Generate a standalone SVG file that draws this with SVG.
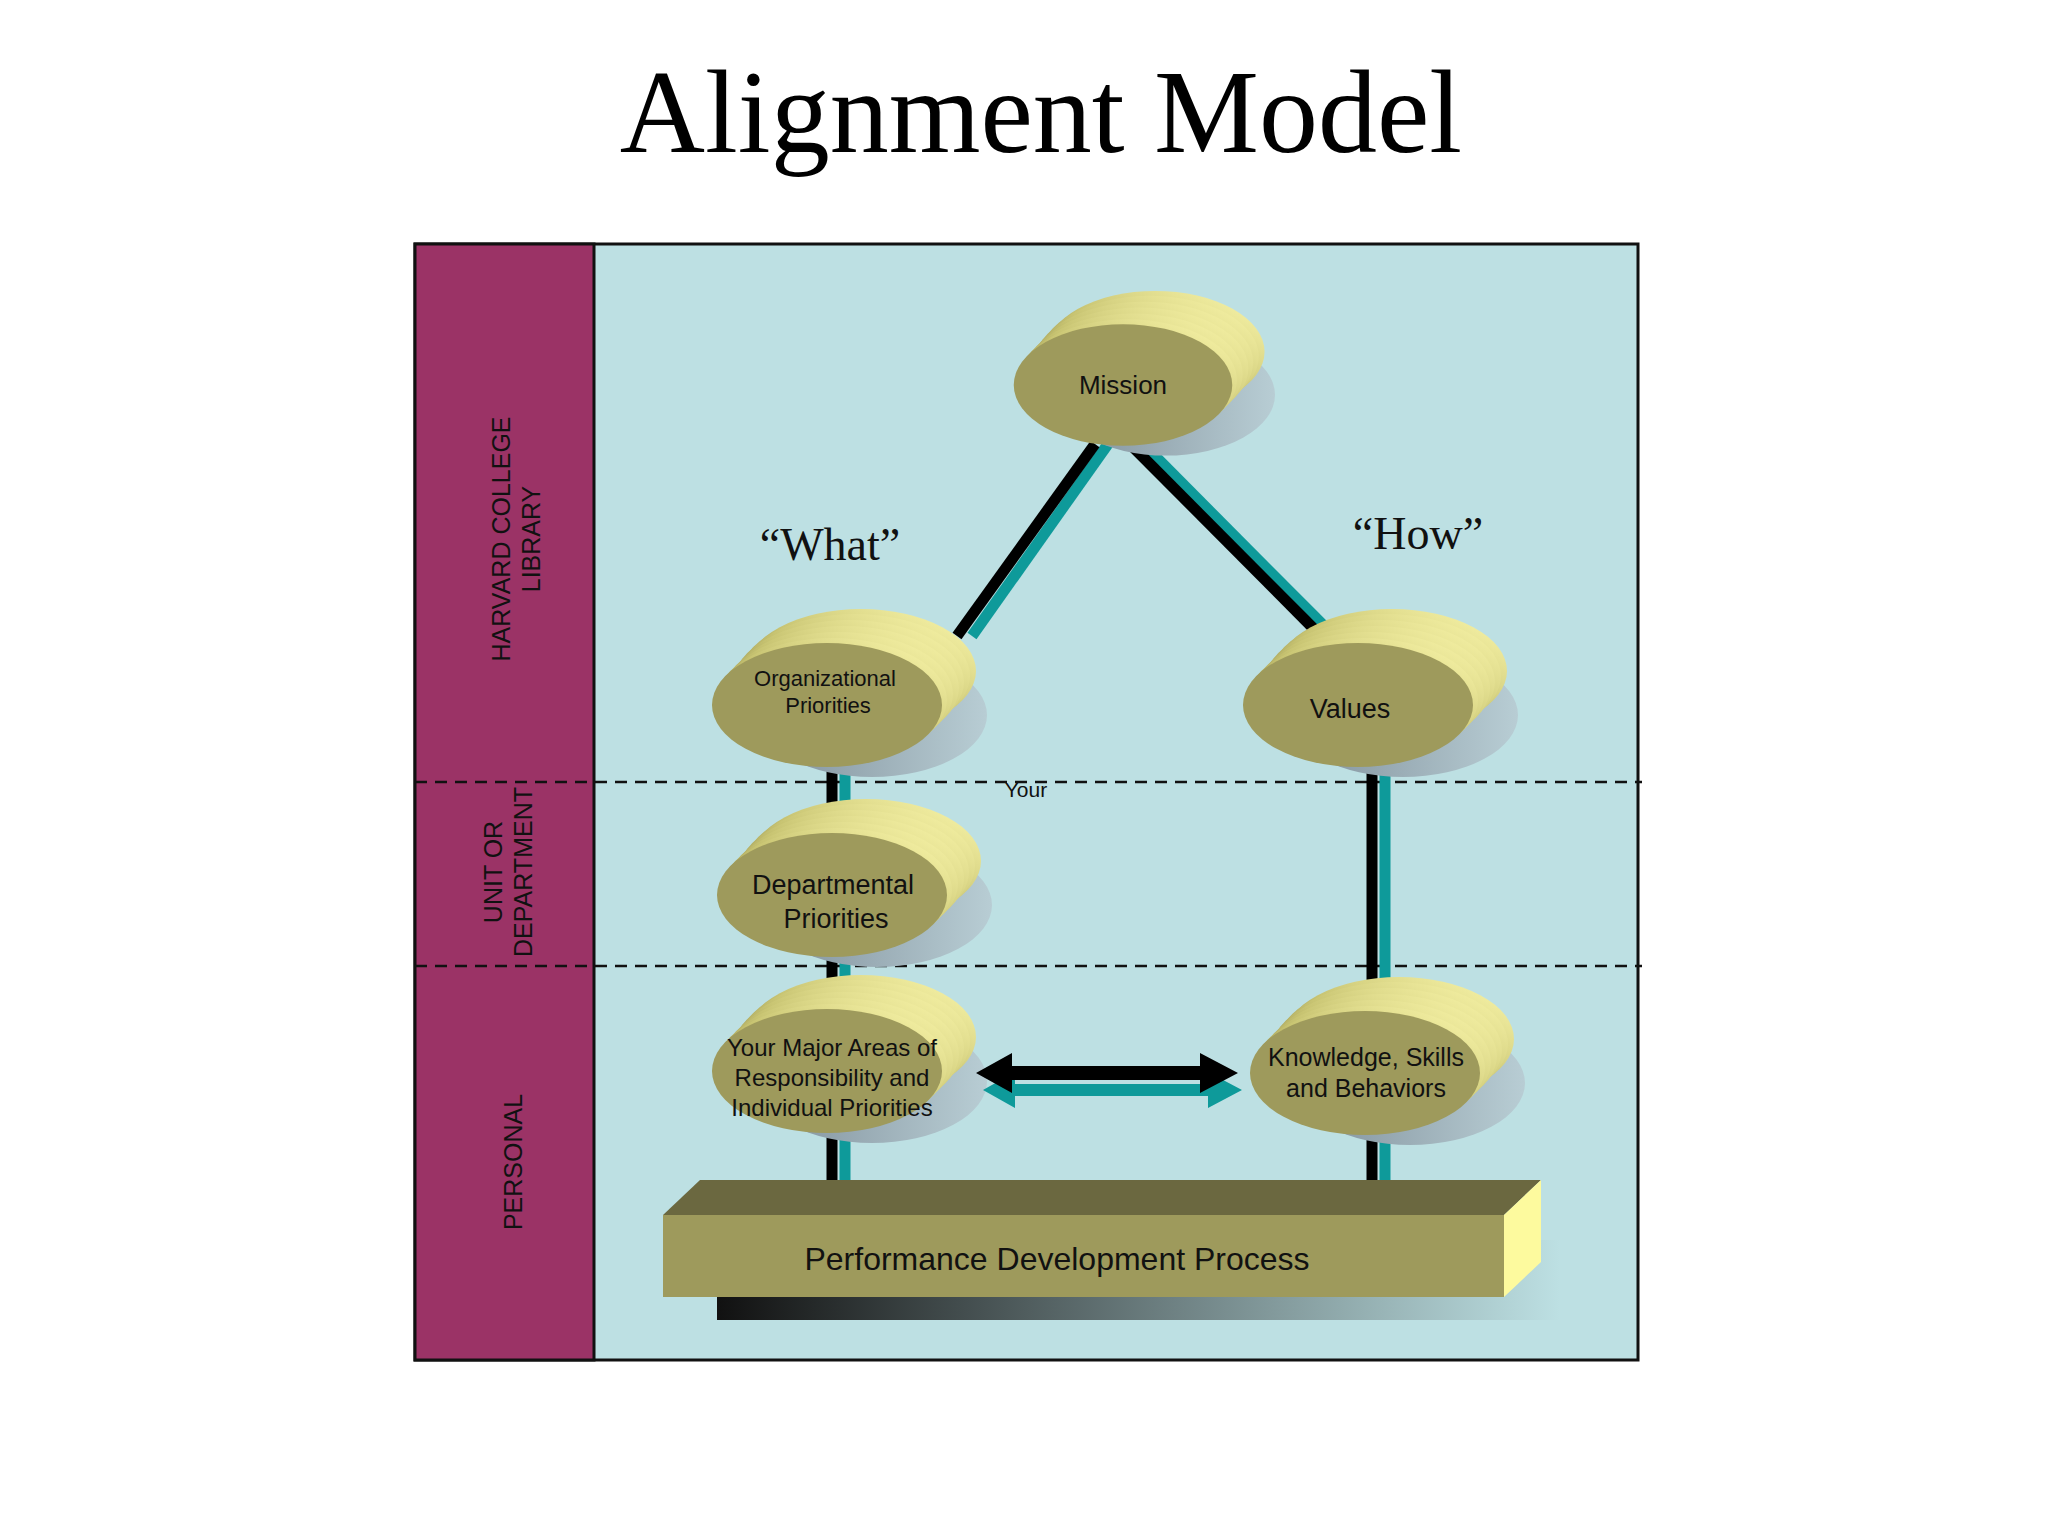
<svg xmlns="http://www.w3.org/2000/svg" width="2048" height="1536" viewBox="0 0 2048 1536">
<style>
.lbl{font-family:"Liberation Sans",Arial,sans-serif;fill:#111;text-anchor:middle}
.side{font-family:"Liberation Sans",Arial,sans-serif;fill:#111;text-anchor:middle;font-size:25px}
.q{font-family:"Liberation Serif","Times New Roman",serif;fill:#111;text-anchor:middle;font-size:46px}
.dash{stroke:#111;stroke-width:2.5;stroke-dasharray:12 8}
</style>
<defs>
<linearGradient id="yel" x1="0" y1="1" x2="1" y2="0">
<stop offset="0" stop-color="#6e6a38"/><stop offset="0.5" stop-color="#c8c472"/><stop offset="1" stop-color="#fffbb0"/>
</linearGradient>
<linearGradient id="shd" x1="0" y1="0" x2="1" y2="0">
<stop offset="0" stop-color="#7f8f9a"/><stop offset="1" stop-color="#b8cdd4"/>
</linearGradient>
<linearGradient id="boxsh" x1="0" y1="0" x2="1" y2="0">
<stop offset="0" stop-color="#111"/><stop offset="1" stop-color="#bde0e3"/>
</linearGradient>
<g id="node">
<ellipse cx="45" cy="10" rx="115" ry="62" fill="url(#shd)"/>
<ellipse cx="34" cy="-34" rx="115" ry="62" fill="url(#yel)"/>
<ellipse cx="28" cy="-29" rx="115" ry="62" fill="url(#yel)"/>
<ellipse cx="22" cy="-23" rx="115" ry="62" fill="url(#yel)"/>
<ellipse cx="17" cy="-17" rx="115" ry="62" fill="url(#yel)"/>
<ellipse cx="11" cy="-11" rx="115" ry="62" fill="url(#yel)"/>
<ellipse cx="5" cy="-5" rx="115" ry="62" fill="url(#yel)"/>
<ellipse cx="0" cy="0" rx="115" ry="62" fill="#9e9a5c"/>
</g>
</defs>
<rect width="2048" height="1536" fill="#fff"/>
<text x="1041" y="152" font-family="Liberation Serif,Times New Roman,serif" font-size="118" text-anchor="middle" fill="#000">Alignment Model</text>
<rect x="415" y="244" width="1223" height="1116" fill="#bde0e3" stroke="#111" stroke-width="3"/>
<rect x="415" y="244" width="179" height="1116" fill="#9b3366" stroke="#111" stroke-width="3"/>
<line class="dash" x1="415" y1="782" x2="1642" y2="782"/>
<line class="dash" x1="415" y1="966" x2="1642" y2="966"/>
<text class="side" transform="translate(510,539) rotate(-90)"><tspan x="0" y="0">HARVARD COLLEGE</tspan><tspan x="0" y="30">LIBRARY</tspan></text>
<text class="side" transform="translate(502,872) rotate(-90)"><tspan x="0" y="0">UNIT OR</tspan><tspan x="0" y="30">DEPARTMENT</tspan></text>
<text class="side" transform="translate(522,1162) rotate(-90)">PERSONAL</text>
<text class="q" x="830" y="560">“What”</text>
<text class="q" x="1418" y="549">“How”</text>
<text class="lbl" x="1026" y="797" font-size="21">Your</text>
<g id="connectors">
<line x1="1108" y1="444" x2="972" y2="636" stroke="#0e9a9a" stroke-width="11"/>
<line x1="1095" y1="444" x2="957" y2="636" stroke="#000" stroke-width="11"/>
<line x1="1143" y1="444" x2="1325" y2="627" stroke="#0e9a9a" stroke-width="11"/>
<line x1="1130" y1="444" x2="1315" y2="630" stroke="#000" stroke-width="11"/>
<line x1="845" y1="768" x2="845" y2="1000" stroke="#0e9a9a" stroke-width="11"/>
<line x1="832" y1="768" x2="832" y2="1000" stroke="#000" stroke-width="11"/>
<line x1="845" y1="1130" x2="845" y2="1190" stroke="#0e9a9a" stroke-width="11"/>
<line x1="832" y1="1130" x2="832" y2="1192" stroke="#000" stroke-width="11"/>
<line x1="1385" y1="768" x2="1385" y2="995" stroke="#0e9a9a" stroke-width="11"/>
<line x1="1372" y1="768" x2="1372" y2="995" stroke="#000" stroke-width="11"/>
<line x1="1385" y1="1130" x2="1385" y2="1190" stroke="#0e9a9a" stroke-width="11"/>
<line x1="1372" y1="1130" x2="1372" y2="1192" stroke="#000" stroke-width="11"/>
</g>
<g id="mission"><use href="#node" transform="translate(1123,385) scale(0.95,0.98)"/><text class="lbl" x="1123" y="394" font-size="26">Mission</text></g>
<g id="org"><use href="#node" transform="translate(827,705)"/><text class="lbl" x="825" y="686" font-size="22"><tspan x="825">Organizational</tspan><tspan x="828" dy="27">Priorities</tspan></text></g>
<g id="values"><use href="#node" transform="translate(1358,705)"/><text class="lbl" x="1350" y="718" font-size="27">Values</text></g>
<g id="dept"><use href="#node" transform="translate(832,895)"/><text class="lbl" x="833" y="894" font-size="27"><tspan x="833">Departmental</tspan><tspan x="836" dy="34">Priorities</tspan></text></g>
<g id="major"><use href="#node" transform="translate(827,1071)"/><text class="lbl" x="832" y="1056" font-size="24"><tspan x="832">Your Major Areas of</tspan><tspan x="832" dy="30">Responsibility and</tspan><tspan x="832" dy="30">Individual Priorities</tspan></text></g>
<g id="knowledge"><use href="#node" transform="translate(1365,1073)"/><text class="lbl" x="1366" y="1066" font-size="25"><tspan x="1366">Knowledge, Skills</tspan><tspan x="1366" dy="31">and Behaviors</tspan></text></g>
<g id="arrow">
<polygon points="983,1090 1015,1072 1015,1084 1208,1084 1208,1072 1242,1090 1208,1108 1208,1096 1015,1096 1015,1108" fill="#0e9a9a"/>
<polygon points="976,1073 1012,1053 1012,1066 1200,1066 1200,1053 1238,1073 1200,1093 1200,1080 1012,1080 1012,1093" fill="#000"/>
</g>
<g id="pdp">
<rect x="717" y="1240" width="843" height="80" fill="url(#boxsh)"/>
<polygon points="663,1215 700,1180 1541,1180 1504,1215" fill="#6b6840"/>
<polygon points="1504,1215 1541,1180 1541,1262 1504,1297" fill="#fdfa9e"/>
<rect x="663" y="1215" width="841" height="82" fill="#9e9a5c"/>
<text class="lbl" x="1057" y="1270" font-size="32">Performance Development Process</text>
</g>
</svg>
